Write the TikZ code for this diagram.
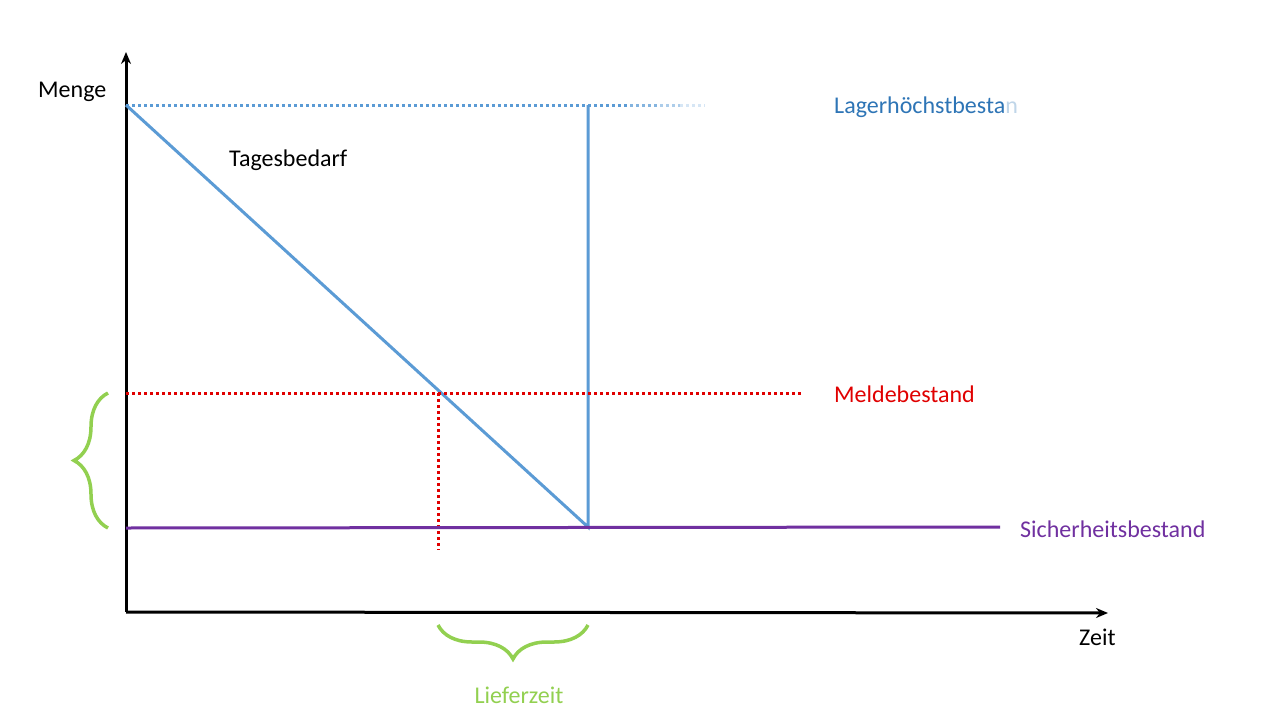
\documentclass[tikz,border=0pt]{standalone}
\usepackage{fontspec}
\setmainfont{Carlito}
\usetikzlibrary{arrows.meta,decorations.pathreplacing,fadings}
\definecolor{lblue}{HTML}{5B9BD5}
\definecolor{tblue}{HTML}{2E75B6}
\definecolor{mred}{HTML}{E00000}
\definecolor{mpurple}{HTML}{7030A0}
\definecolor{mgreen}{HTML}{92D050}
\begin{document}
\begin{tikzpicture}[x=1pt,y=-1pt,
  lbl/.style={font=\fontsize{24}{28}\selectfont,inner sep=0pt},
  gbrace/.style={mgreen,line width=3.5pt,decorate,decoration={brace,amplitude=34pt}},
  dots/.style={dash pattern=on 3pt off 3pt,line width=3pt}]
\useasboundingbox[fill=white] (0,0) rectangle (1280,720);
\coordinate (o) at (126,612);
\coordinate (ytop) at (126,52);
\coordinate (xend) at (1108,613);
\coordinate (top) at (126,105);
\coordinate (low) at (588,527);
\coordinate (vtop) at (588,105);
\draw[line width=3pt,-{Stealth[length=12pt,width=10pt]}] (o) -- (ytop);
\draw[line width=3pt,-{Stealth[length=12pt,width=10pt]}] (o) -- (xend);
\draw[lblue,dots] (top) -- (630,105);
\draw[lblue!75,dots] (630,105) -- (660,105);
\draw[lblue!50,dots] (660,105) -- (680,105);
\draw[lblue!25,dots] (680,105) -- (705,105);
\draw[lblue,line width=3pt] (top) -- (low) -- (vtop);
\draw[mred,dots] (126,393) -- (803,393);
\draw[mred,dots] (438,393) -- (438,550);
\draw[mpurple,line width=3pt] (126,528) -- (1000,527);
\draw[gbrace] (108,528) -- (108,393);
\draw[gbrace] (588,625) -- (438,625);
\node[lbl,anchor=west] (menge) at (38,92) {Menge};
\node[lbl,anchor=west] (tb) at (229,160) {Tagesbedarf};
\node[lbl,anchor=west,text=tblue] (lh) at (834,107) {Lagerhöchstbesta\textcolor{tblue!30}{n}};
\node[lbl,anchor=west,text=mred] (mb) at (834,394) {Meldebestand};
\node[lbl,anchor=west,text=mpurple] (sb) at (1020,529) {Sicherheitsbestand};
\node[lbl,anchor=west] (zeit) at (1079,637) {Zeit};
\node[lbl,text=mgreen] (lz) at (519,695) {Lieferzeit};
\end{tikzpicture}
\end{document}
